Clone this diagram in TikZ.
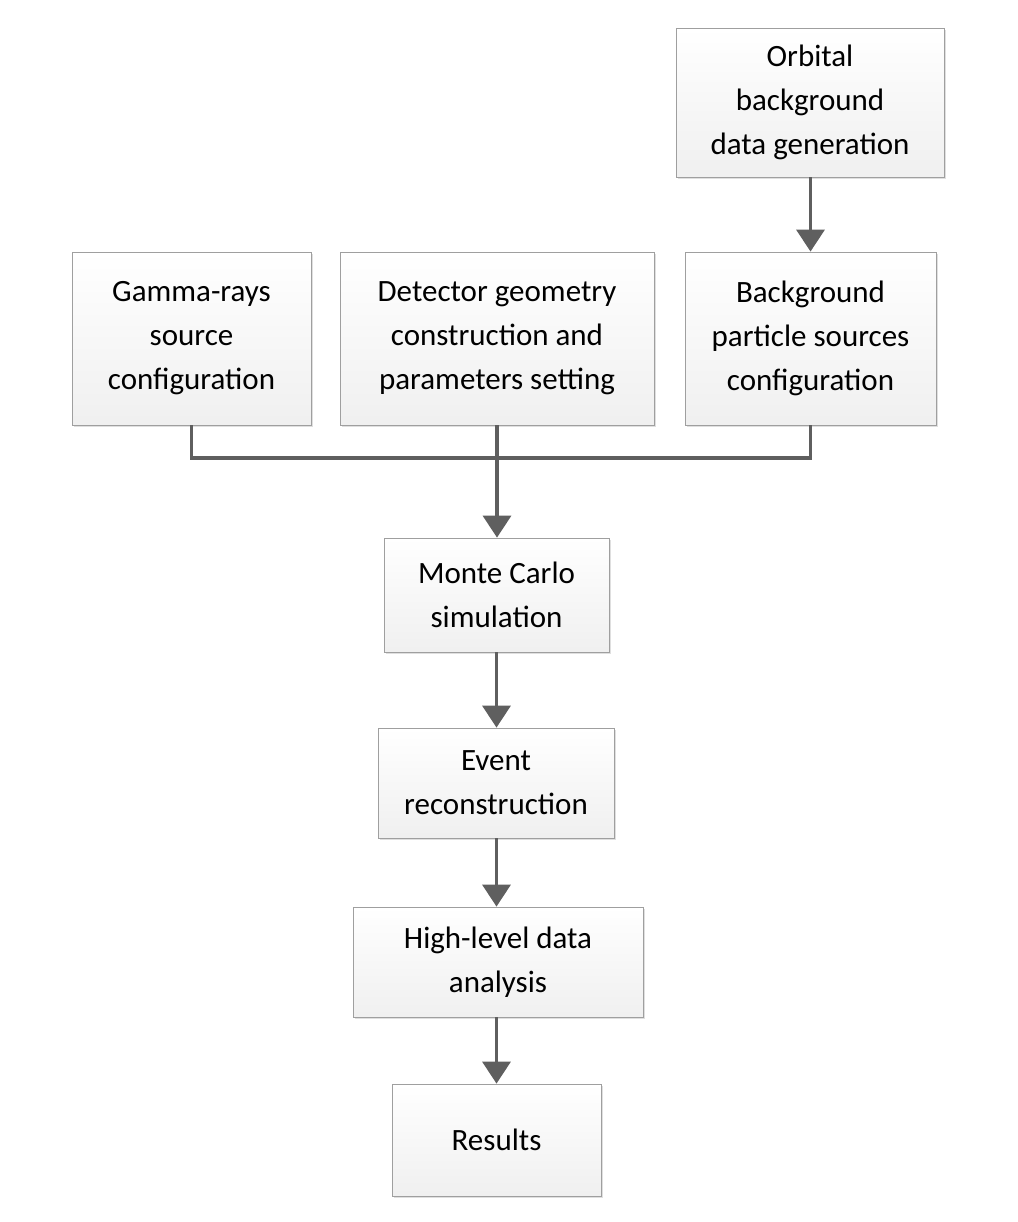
\documentclass[tikz,border=0pt]{standalone}
\usepackage{fontspec}
\setmainfont{Carlito}
\usetikzlibrary{arrows.meta,shadows}
\definecolor{ln}{HTML}{5F5F5F}
\begin{document}
\begin{tikzpicture}[x=1pt,y=-1pt,
  box/.style={draw=gray!75,line width=0.8pt,top color=white,bottom color=gray!12,
    drop shadow={shadow xshift=2pt,shadow yshift=-2pt,opacity=0.25},
    align=center,font=\fontsize{31}{44}\selectfont,inner sep=0pt},
  conn/.style={draw=ln,line width=3.5pt},
  arr/.style={conn,-{Triangle[length=22pt,width=28pt]}}]
\useasboundingbox[fill=white] (0,0) rectangle (1017,1222);
\node[box,minimum width=268pt,minimum height=149pt] (orb) at (810,102.5) {Orbital\\background\\data generation};
\node[box,minimum width=239pt,minimum height=173pt] (gam) at (191.5,338.5) {Gamma-rays\\source\\configuration};
\node[box,minimum width=314pt,minimum height=173pt] (det) at (497,338.5) {Detector geometry\\construction and\\parameters setting};
\node[box,minimum width=251pt,minimum height=173pt] (bg) at (810.5,338.5) {Background\\particle sources\\configuration};
\node[box,minimum width=225pt,minimum height=114pt] (mc) at (496.5,595) {Monte Carlo\\simulation};
\node[box,minimum width=236pt,minimum height=110pt] (ev) at (496,783) {Event\\reconstruction};
\node[box,minimum width=290pt,minimum height=110pt] (hl) at (498,962) {High-level data\\analysis};
\node[box,minimum width=209pt,minimum height=112pt] (res) at (496.5,1140) {Results};
\coordinate (j) at (497,458);
\draw[arr] (orb.south -| bg) -- (bg.north);
\draw[conn] (gam.south) |- (j) -| (bg.south);
\draw[arr] (det.south) -- (mc.north -| det);
\draw[arr] (mc) -- (ev.north -| mc);
\draw[arr] (ev.south -| mc) -- (hl.north -| mc);
\draw[arr] (hl.south -| mc) -- (res.north -| mc);
\end{tikzpicture}
\end{document}
